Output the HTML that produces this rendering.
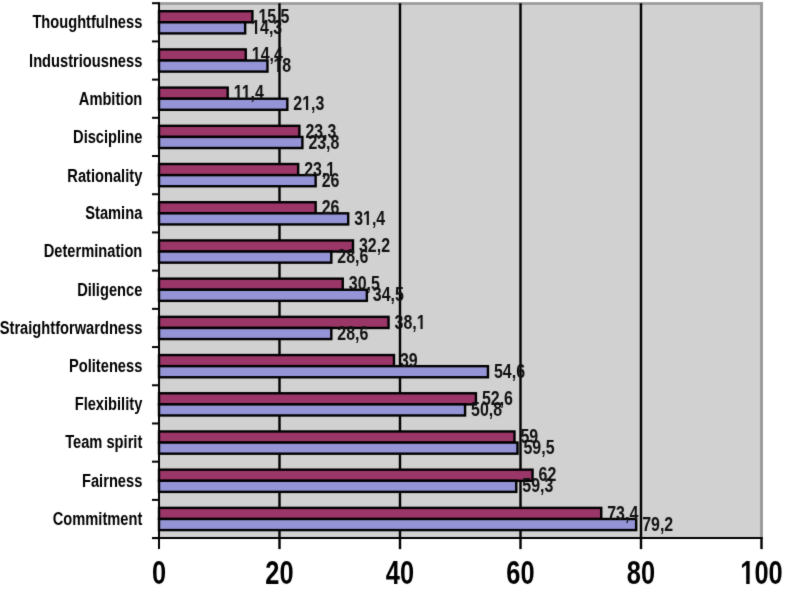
<!DOCTYPE html>
<html><head><meta charset="utf-8"><style>
html,body{margin:0;padding:0;background:#fff;width:785px;height:593px;overflow:hidden}
svg{display:block}
text{font-family:"Liberation Sans",Arial,sans-serif;font-weight:bold;fill:#000}
.c{font-size:18.9px;text-anchor:end}
.v{font-size:19.4px;font-weight:bold;fill:#111}
.a{font-size:32.6px;text-anchor:middle}
</style></head><body>
<svg width="785" height="593" viewBox="0 0 785 593">
<defs><clipPath id="k0"><path clip-rule="evenodd" d="M-2000 -2000H3000V3000H-2000ZM258.62 21.00H262.24V24.30H258.62ZM264.40 21.00H267.82V24.30H264.40Z"/></clipPath><clipPath id="k1"><path clip-rule="evenodd" d="M-2000 -2000H3000V3000H-2000ZM251.35 32.00H254.97V35.30H251.35ZM257.16 32.00H260.58V35.30H257.16Z"/></clipPath><clipPath id="k2"><path clip-rule="evenodd" d="M-2000 -2000H3000V3000H-2000ZM251.86 59.00H255.48V62.30H251.86ZM257.64 59.00H261.06V62.30H257.64Z"/></clipPath><clipPath id="k3"><path clip-rule="evenodd" d="M-2000 -2000H3000V3000H-2000ZM273.62 70.00H277.24V73.30H273.62ZM279.40 70.00H282.82V73.30H279.40Z"/></clipPath><clipPath id="k4"><path clip-rule="evenodd" d="M-2000 -2000H3000V3000H-2000ZM233.86 97.00H237.48V100.30H233.86ZM239.64 97.00H245.48V100.30H239.64ZM247.64 97.00H251.06V100.30H247.64Z"/></clipPath><clipPath id="k5"><path clip-rule="evenodd" d="M-2000 -2000H3000V3000H-2000ZM302.35 108.00H305.97V111.30H302.35ZM308.16 108.00H311.58V111.30H308.16Z"/></clipPath><clipPath id="k6"><path clip-rule="evenodd" d="M-2000 -2000H3000V3000H-2000ZM326.35 174.00H329.97V177.30H326.35ZM332.16 174.00H335.58V177.30H332.16Z"/></clipPath><clipPath id="k7"><path clip-rule="evenodd" d="M-2000 -2000H3000V3000H-2000ZM363.11 223.00H366.72V226.30H363.11ZM368.89 223.00H372.31V226.30H368.89Z"/></clipPath><clipPath id="k8"><path clip-rule="evenodd" d="M-2000 -2000H3000V3000H-2000ZM416.86 327.00H420.48V330.30H416.86ZM422.64 327.00H426.06V330.30H422.64Z"/></clipPath><clipPath id="k9"><path clip-rule="evenodd" d="M-2000 -2000H3000V3000H-2000ZM740.97 580.00H746.20V585.30H740.97ZM749.65 580.00H754.57V585.30H749.65Z"/></clipPath><filter id="bl" x="0" y="0" width="1" height="1" color-interpolation-filters="sRGB"><feConvolveMatrix order="3" kernelMatrix="0.01134 0.08382 0.01134 0.08382 0.61935 0.08382 0.01134 0.08382 0.01134" edgeMode="duplicate" preserveAlpha="true"/></filter></defs>
<g filter="url(#bl)">
<rect width="785" height="593" fill="#fff"/>
<rect x="159.0" y="3.2" width="602.5" height="534.898" fill="#d1d1d1"/>
<rect x="159.0" y="2.2" width="604.0" height="2.6" fill="#989898"/>
<rect x="760" y="2.2" width="3" height="535.898" fill="#9c9c9c"/>
<line x1="279.5" y1="3.2" x2="279.5" y2="538.0980000000001" stroke="#000" stroke-width="2.4"/>
<line x1="400.0" y1="3.2" x2="400.0" y2="538.0980000000001" stroke="#000" stroke-width="2.4"/>
<line x1="520.5" y1="3.2" x2="520.5" y2="538.0980000000001" stroke="#000" stroke-width="2.4"/>
<line x1="641.0" y1="3.2" x2="641.0" y2="538.0980000000001" stroke="#000" stroke-width="2.4"/>
<rect x="159.0" y="11.20" width="93.39" height="11.1" fill="#9b3668" stroke="#000" stroke-width="2.4"/>
<rect x="159.0" y="22.30" width="86.16" height="11.1" fill="#9494d6" stroke="#000" stroke-width="2.4"/>
<rect x="159.0" y="49.41" width="86.76" height="11.1" fill="#9b3668" stroke="#000" stroke-width="2.4"/>
<rect x="159.0" y="60.51" width="108.45" height="11.1" fill="#9494d6" stroke="#000" stroke-width="2.4"/>
<rect x="159.0" y="87.61" width="68.69" height="11.1" fill="#9b3668" stroke="#000" stroke-width="2.4"/>
<rect x="159.0" y="98.71" width="128.33" height="11.1" fill="#9494d6" stroke="#000" stroke-width="2.4"/>
<rect x="159.0" y="125.82" width="140.38" height="11.1" fill="#9b3668" stroke="#000" stroke-width="2.4"/>
<rect x="159.0" y="136.92" width="143.39" height="11.1" fill="#9494d6" stroke="#000" stroke-width="2.4"/>
<rect x="159.0" y="164.03" width="139.18" height="11.1" fill="#9b3668" stroke="#000" stroke-width="2.4"/>
<rect x="159.0" y="175.13" width="156.65" height="11.1" fill="#9494d6" stroke="#000" stroke-width="2.4"/>
<rect x="159.0" y="202.23" width="156.65" height="11.1" fill="#9b3668" stroke="#000" stroke-width="2.4"/>
<rect x="159.0" y="213.33" width="189.19" height="11.1" fill="#9494d6" stroke="#000" stroke-width="2.4"/>
<rect x="159.0" y="240.44" width="194.00" height="11.1" fill="#9b3668" stroke="#000" stroke-width="2.4"/>
<rect x="159.0" y="251.54" width="172.32" height="11.1" fill="#9494d6" stroke="#000" stroke-width="2.4"/>
<rect x="159.0" y="278.65" width="183.76" height="11.1" fill="#9b3668" stroke="#000" stroke-width="2.4"/>
<rect x="159.0" y="289.75" width="207.86" height="11.1" fill="#9494d6" stroke="#000" stroke-width="2.4"/>
<rect x="159.0" y="316.86" width="229.55" height="11.1" fill="#9b3668" stroke="#000" stroke-width="2.4"/>
<rect x="159.0" y="327.96" width="172.32" height="11.1" fill="#9494d6" stroke="#000" stroke-width="2.4"/>
<rect x="159.0" y="355.06" width="234.98" height="11.1" fill="#9b3668" stroke="#000" stroke-width="2.4"/>
<rect x="159.0" y="366.16" width="328.97" height="11.1" fill="#9494d6" stroke="#000" stroke-width="2.4"/>
<rect x="159.0" y="393.27" width="316.92" height="11.1" fill="#9b3668" stroke="#000" stroke-width="2.4"/>
<rect x="159.0" y="404.37" width="306.07" height="11.1" fill="#9494d6" stroke="#000" stroke-width="2.4"/>
<rect x="159.0" y="431.48" width="355.48" height="11.1" fill="#9b3668" stroke="#000" stroke-width="2.4"/>
<rect x="159.0" y="442.58" width="358.49" height="11.1" fill="#9494d6" stroke="#000" stroke-width="2.4"/>
<rect x="159.0" y="469.68" width="373.55" height="11.1" fill="#9b3668" stroke="#000" stroke-width="2.4"/>
<rect x="159.0" y="480.78" width="357.28" height="11.1" fill="#9494d6" stroke="#000" stroke-width="2.4"/>
<rect x="159.0" y="507.89" width="442.24" height="11.1" fill="#9b3668" stroke="#000" stroke-width="2.4"/>
<rect x="159.0" y="518.99" width="477.18" height="11.1" fill="#9494d6" stroke="#000" stroke-width="2.4"/>
<line x1="159.0" y1="2.2" x2="159.0" y2="549.0980000000001" stroke="#000" stroke-width="2"/>
<line x1="152" y1="538.0980000000001" x2="762.8" y2="538.0980000000001" stroke="#000" stroke-width="2"/>
<line x1="152" y1="3.20" x2="159.0" y2="3.20" stroke="#000" stroke-width="2"/>
<line x1="152" y1="41.41" x2="159.0" y2="41.41" stroke="#000" stroke-width="2"/>
<line x1="152" y1="79.61" x2="159.0" y2="79.61" stroke="#000" stroke-width="2"/>
<line x1="152" y1="117.82" x2="159.0" y2="117.82" stroke="#000" stroke-width="2"/>
<line x1="152" y1="156.03" x2="159.0" y2="156.03" stroke="#000" stroke-width="2"/>
<line x1="152" y1="194.23" x2="159.0" y2="194.23" stroke="#000" stroke-width="2"/>
<line x1="152" y1="232.44" x2="159.0" y2="232.44" stroke="#000" stroke-width="2"/>
<line x1="152" y1="270.65" x2="159.0" y2="270.65" stroke="#000" stroke-width="2"/>
<line x1="152" y1="308.86" x2="159.0" y2="308.86" stroke="#000" stroke-width="2"/>
<line x1="152" y1="347.06" x2="159.0" y2="347.06" stroke="#000" stroke-width="2"/>
<line x1="152" y1="385.27" x2="159.0" y2="385.27" stroke="#000" stroke-width="2"/>
<line x1="152" y1="423.48" x2="159.0" y2="423.48" stroke="#000" stroke-width="2"/>
<line x1="152" y1="461.68" x2="159.0" y2="461.68" stroke="#000" stroke-width="2"/>
<line x1="152" y1="499.89" x2="159.0" y2="499.89" stroke="#000" stroke-width="2"/>
<line x1="152" y1="538.10" x2="159.0" y2="538.10" stroke="#000" stroke-width="2"/>
<line x1="279.5" y1="538.0980000000001" x2="279.5" y2="549.0980000000001" stroke="#000" stroke-width="2.4"/>
<line x1="400.0" y1="538.0980000000001" x2="400.0" y2="549.0980000000001" stroke="#000" stroke-width="2.4"/>
<line x1="520.5" y1="538.0980000000001" x2="520.5" y2="549.0980000000001" stroke="#000" stroke-width="2.4"/>
<line x1="641.0" y1="538.0980000000001" x2="641.0" y2="549.0980000000001" stroke="#000" stroke-width="2.4"/>
<line x1="761.5" y1="538.0980000000001" x2="761.5" y2="549.0980000000001" stroke="#000" stroke-width="2.4"/>
<g transform="translate(142.30 28.10) scale(0.776 1)"><text class="c">Thoughtfulness</text></g>
<g clip-path="url(#k0)"><g transform="translate(258.39 22.90) scale(0.822 1)"><text class="v">15,5</text></g></g>
<g clip-path="url(#k1)"><g transform="translate(251.16 34.00) scale(0.822 1)"><text class="v">14,3</text></g></g>
<g transform="translate(142.30 67.31) scale(0.776 1)"><text class="c">Industriousness</text></g>
<g clip-path="url(#k2)"><g transform="translate(251.76 61.11) scale(0.822 1)"><text class="v">14,4</text></g></g>
<g clip-path="url(#k3)"><g transform="translate(273.45 72.21) scale(0.822 1)"><text class="v">18</text></g></g>
<g transform="translate(142.30 104.51) scale(0.776 1)"><text class="c">Ambition</text></g>
<g clip-path="url(#k4)"><g transform="translate(233.69 99.31) scale(0.822 1)"><text class="v">11,4</text></g></g>
<g clip-path="url(#k5)"><g transform="translate(293.33 110.41) scale(0.822 1)"><text class="v">21,3</text></g></g>
<g transform="translate(142.30 142.72) scale(0.776 1)"><text class="c">Discipline</text></g>
<g transform="translate(305.38 137.52) scale(0.822 1)"><text class="v">23,3</text></g>
<g transform="translate(308.39 148.62) scale(0.822 1)"><text class="v">23,8</text></g>
<g transform="translate(142.30 182.23) scale(0.776 1)"><text class="c">Rationality</text></g>
<g clip-path="url(#k6)"><g transform="translate(304.18 175.73) scale(0.822 1)"><text class="v">23,1</text></g></g>
<g transform="translate(321.65 186.83) scale(0.822 1)"><text class="v">26</text></g>
<g transform="translate(142.30 219.13) scale(0.776 1)"><text class="c">Stamina</text></g>
<g transform="translate(321.65 213.93) scale(0.822 1)"><text class="v">26</text></g>
<g clip-path="url(#k7)"><g transform="translate(354.19 225.03) scale(0.822 1)"><text class="v">31,4</text></g></g>
<g transform="translate(142.30 257.34) scale(0.776 1)"><text class="c">Determination</text></g>
<g transform="translate(359.00 252.14) scale(0.822 1)"><text class="v">32,2</text></g>
<g transform="translate(337.32 263.24) scale(0.822 1)"><text class="v">28,6</text></g>
<g transform="translate(142.30 295.55) scale(0.776 1)"><text class="c">Diligence</text></g>
<g transform="translate(348.76 290.35) scale(0.822 1)"><text class="v">30,5</text></g>
<g transform="translate(372.86 301.45) scale(0.822 1)"><text class="v">34,5</text></g>
<g transform="translate(142.30 333.76) scale(0.776 1)"><text class="c">Straightforwardness</text></g>
<g clip-path="url(#k8)"><g transform="translate(394.55 328.56) scale(0.822 1)"><text class="v">38,1</text></g></g>
<g transform="translate(337.32 339.66) scale(0.822 1)"><text class="v">28,6</text></g>
<g transform="translate(142.30 371.96) scale(0.776 1)"><text class="c">Politeness</text></g>
<g transform="translate(399.98 366.76) scale(0.822 1)"><text class="v">39</text></g>
<g transform="translate(493.97 377.86) scale(0.822 1)"><text class="v">54,6</text></g>
<g transform="translate(142.30 410.17) scale(0.776 1)"><text class="c">Flexibility</text></g>
<g transform="translate(481.92 404.97) scale(0.822 1)"><text class="v">52,6</text></g>
<g transform="translate(471.07 416.07) scale(0.822 1)"><text class="v">50,8</text></g>
<g transform="translate(142.30 448.38) scale(0.776 1)"><text class="c">Team spirit</text></g>
<g transform="translate(520.48 443.18) scale(0.822 1)"><text class="v">59</text></g>
<g transform="translate(523.49 454.28) scale(0.822 1)"><text class="v">59,5</text></g>
<g transform="translate(142.30 486.58) scale(0.776 1)"><text class="c">Fairness</text></g>
<g transform="translate(538.55 481.38) scale(0.822 1)"><text class="v">62</text></g>
<g transform="translate(522.28 492.48) scale(0.822 1)"><text class="v">59,3</text></g>
<g transform="translate(142.30 524.79) scale(0.776 1)"><text class="c">Commitment</text></g>
<g transform="translate(607.24 519.59) scale(0.822 1)"><text class="v">73,4</text></g>
<g transform="translate(642.18 530.69) scale(0.822 1)"><text class="v">79,2</text></g>
<g transform="translate(159.00 583.80) scale(0.78 1)"><text class="a">0</text></g>
<g transform="translate(279.50 583.80) scale(0.78 1)"><text class="a">20</text></g>
<g transform="translate(400.00 583.80) scale(0.78 1)"><text class="a">40</text></g>
<g transform="translate(520.50 583.80) scale(0.78 1)"><text class="a">60</text></g>
<g transform="translate(641.00 583.80) scale(0.78 1)"><text class="a">80</text></g>
<g clip-path="url(#k9)"><g transform="translate(761.50 583.80) scale(0.78 1)"><text class="a">100</text></g></g>
</g>
</svg></body></html>
